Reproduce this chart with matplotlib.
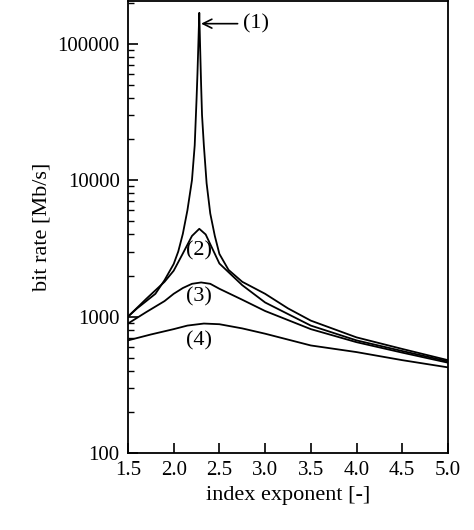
import matplotlib
matplotlib.use("Agg")
import matplotlib.pyplot as plt
from matplotlib.ticker import FixedLocator, LogLocator, NullFormatter, FixedFormatter

plt.rcParams['font.family'] = ['Liberation Serif', 'DejaVu Serif']

# curve (1): sharp resonance
x1 = [1.5, 1.6, 1.7, 1.8, 1.9, 2.0, 2.05, 2.1, 2.15, 2.2, 2.23, 2.25, 2.26, 2.27, 2.28,
      2.29, 2.3, 2.31, 2.33, 2.36, 2.4, 2.45, 2.5, 2.6, 2.75, 3.0, 3.25, 3.5, 4.0, 4.5, 5.0]
y1 = [1000, 1150, 1300, 1470, 1850, 2430, 3000, 4040, 6000, 10000, 18000, 39000, 60000, 100000, 168000,
      90000, 50000, 30000, 18000, 9500, 5700, 3900, 2880, 2200, 1800, 1470, 1150, 935, 705, 580, 480]
# curve (2)
x2 = [1.5, 1.7, 1.9, 2.0, 2.1, 2.2, 2.28, 2.35, 2.5, 2.75, 3.0, 3.5, 4.0, 4.5, 5.0]
y2 = [1000, 1350, 1800, 2170, 2900, 3900, 4400, 4000, 2450, 1700, 1270, 860, 670, 560, 470]
# curve (3)
x3 = [1.5, 1.7, 1.9, 2.0, 2.1, 2.2, 2.3, 2.4, 2.5, 2.75, 3.0, 3.5, 4.0, 4.5, 5.0]
y3 = [890, 1080, 1300, 1470, 1620, 1740, 1780, 1740, 1600, 1330, 1100, 810, 650, 545, 460]
# curve (4)
x4 = [1.5, 1.75, 2.0, 2.15, 2.33, 2.5, 2.75, 3.0, 3.5, 4.0, 4.5, 5.0]
y4 = [670, 740, 810, 860, 890, 880, 820, 750, 615, 550, 480, 425]

fig = plt.figure(figsize=(4.74, 5.30), dpi=100)
ax = fig.add_axes([0.27, 0.145, 0.675, 0.853])
for x, y in [(x1, y1), (x2, y2), (x3, y3), (x4, y4)]:
    ax.plot(x, y, color='black', linewidth=1.3)

ax.set_yscale('log')
ax.set_xlim(1.5, 5.0)
ax.set_ylim(100, 205000)
ax.set_xticks([1.5, 2.0, 2.5, 3.0, 3.5, 4.0, 4.5, 5.0])
ax.set_xticklabels(['1.5', '2.0', '2.5', '3.0', '3.5', '4.0', '4.5', '5.0'])
ax.yaxis.set_major_locator(FixedLocator([100, 1000, 10000, 100000]))
ax.yaxis.set_major_formatter(FixedFormatter(['100', '1000', '10000', '100000']))
ax.yaxis.set_minor_locator(LogLocator(base=10, subs=range(2, 10)))
ax.yaxis.set_minor_formatter(NullFormatter())
ax.tick_params(direction='in', labelsize=15, length=7, width=1.2, pad=6)
ax.tick_params(which='minor', direction='in', length=4, width=1.0)
for s in ax.spines.values():
    s.set_linewidth(1.3)

ax.set_xlabel('index exponent [-]', fontsize=16)
ax.set_ylabel('bit rate [Mb/s]', fontsize=16)

ax.annotate('(1)', xy=(2.3, 140000), xytext=(2.76, 140000), fontsize=16, va='center',
            arrowprops=dict(arrowstyle='->', color='black', lw=1.2, shrinkA=2, shrinkB=0))
ax.text(2.28, 3050, '(2)', fontsize=16, ha='center', va='center')
ax.text(2.28, 1390, '(3)', fontsize=16, ha='center', va='center')
ax.text(2.28, 665, '(4)', fontsize=16, ha='center', va='center')

fig.savefig('out.png', dpi=100)
